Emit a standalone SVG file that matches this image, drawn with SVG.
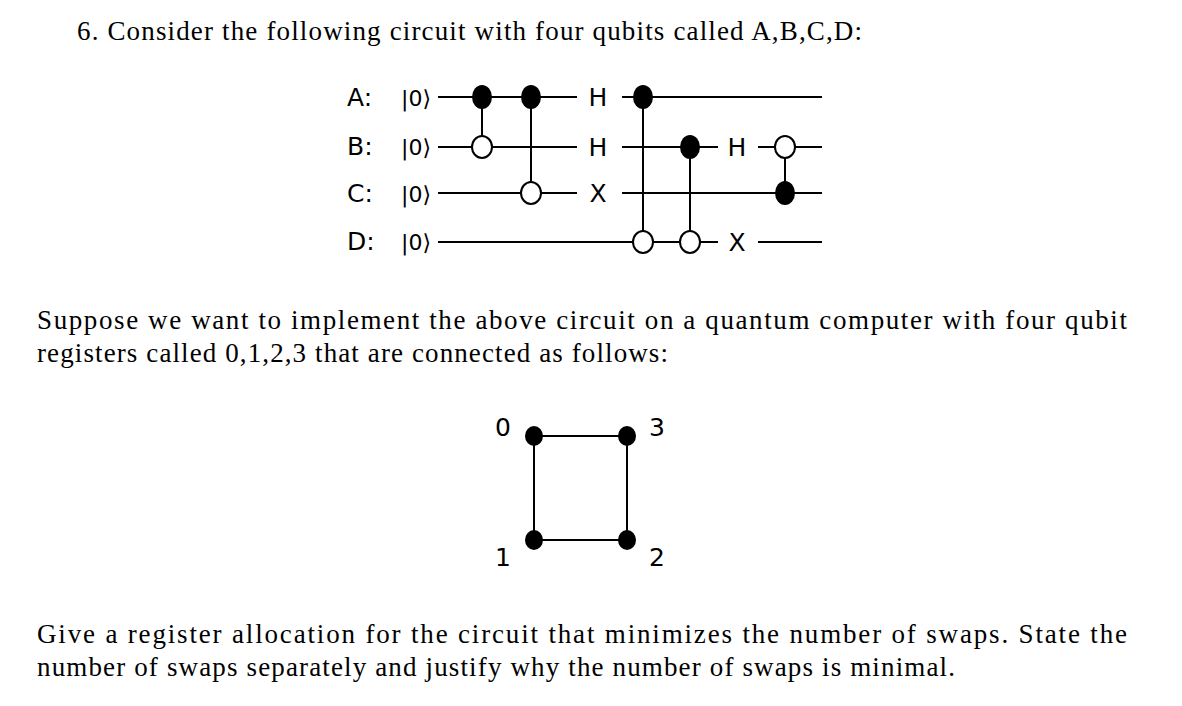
<svg xmlns="http://www.w3.org/2000/svg" width="1182" height="706" viewBox="0 0 1182 706">
<style>
.t{font-family:"Liberation Serif",serif;font-size:27px;fill:#000}
.c{font-family:"DejaVu Sans",sans-serif;font-size:25px;fill:#000}
.k{font-family:"DejaVu Sans",sans-serif;font-size:22px;fill:#000}
.w{stroke:#000;stroke-width:2;fill:none}
.f{fill:#000}
.o{fill:#fff;stroke:#000;stroke-width:2}
</style>
<rect width="1182" height="706" fill="#fff"/>
<text class="t" x="77" y="40" textLength="785" lengthAdjust="spacing">6. Consider the following circuit with four qubits called A,B,C,D:</text>
<g id="labels">
<text class="c" x="347" y="106">A:</text><text class="k" x="401" y="106">|0⟩</text>
<text class="c" x="347" y="155">B:</text><text class="k" x="401" y="155">|0⟩</text>
<text class="c" x="347" y="202">C:</text><text class="k" x="401" y="202">|0⟩</text>
<text class="c" x="347" y="250">D:</text><text class="k" x="401" y="250">|0⟩</text>
</g>
<g id="connectors" class="w">
<path d="M438 97H577M622 97H822"/>
<path d="M438 147H577M622 147H718M758 147H822"/>
<path d="M438 193H577M622 193H822"/>
<path d="M438 242H718M758 242H822"/>
<path d="M482 97V147M531 97V193M643 97V242M690 147V242M785 147V193"/>
<path d="M534 436H627V540H534Z"/>
</g>
<g id="gates">
<ellipse class="f" cx="482" cy="97" rx="10" ry="12"/>
<ellipse class="o" cx="482" cy="147" rx="10" ry="11"/>
<ellipse class="f" cx="531" cy="97" rx="10" ry="12"/>
<ellipse class="o" cx="531" cy="193" rx="10" ry="11"/>
<text class="c" x="598" y="106" text-anchor="middle">H</text>
<text class="c" x="598" y="156" text-anchor="middle">H</text>
<text class="c" x="598" y="202" text-anchor="middle">X</text>
<ellipse class="f" cx="643" cy="97" rx="10" ry="12"/>
<ellipse class="o" cx="643" cy="242" rx="10" ry="11"/>
<ellipse class="f" cx="690" cy="147" rx="10" ry="12"/>
<ellipse class="o" cx="690" cy="242" rx="10" ry="11"/>
<text class="c" x="737" y="156" text-anchor="middle">H</text>
<text class="c" x="737" y="251" text-anchor="middle">X</text>
<ellipse class="o" cx="785" cy="147" rx="10" ry="11"/>
<ellipse class="f" cx="785" cy="193" rx="10" ry="12"/>
</g>
<text class="t" x="37" y="329" textLength="1090" lengthAdjust="spacing">Suppose we want to implement the above circuit on a quantum computer with four qubit</text>
<text class="t" x="37" y="362" textLength="631" lengthAdjust="spacing">registers called 0,1,2,3 that are connected as follows:</text>
<g id="n0"><ellipse class="f" cx="534" cy="436" rx="9" ry="10"/><text class="c" x="503" y="436" text-anchor="middle">0</text></g>
<g id="n3"><ellipse class="f" cx="627" cy="436" rx="9" ry="10"/><text class="c" x="657" y="436" text-anchor="middle">3</text></g>
<g id="n1"><ellipse class="f" cx="534" cy="540" rx="9" ry="10"/><text class="c" x="503" y="566" text-anchor="middle">1</text></g>
<g id="n2"><ellipse class="f" cx="627" cy="540" rx="9" ry="10"/><text class="c" x="657" y="566" text-anchor="middle">2</text></g>
<text class="t" x="37" y="643" textLength="1090" lengthAdjust="spacing">Give a register allocation for the circuit that minimizes the number of swaps.  State the</text>
<text class="t" x="37" y="676" textLength="918" lengthAdjust="spacing">number of swaps separately and justify why the number of swaps is minimal.</text>
</svg>
